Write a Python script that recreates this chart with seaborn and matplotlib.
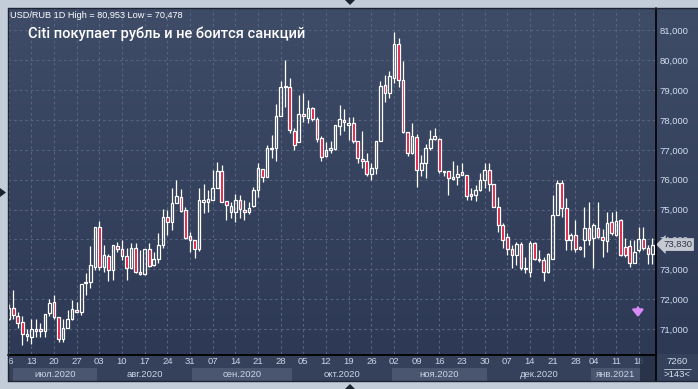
import numpy as np
import matplotlib
matplotlib.use("Agg")
import matplotlib.pyplot as plt
import matplotlib.transforms as mtransforms
from matplotlib.patches import Rectangle, Polygon
import seaborn as sns

# ---------------- data (USD/RUB daily, 6 Jul 2020 - 21 Jan 2021) ----------------
opens = [71.35, 71.72, 71.44, 71.22, 70.78, 70.74, 70.94, 71.00, 70.93, 71.52,
         71.91, 71.39, 70.65, 71.05, 71.35, 71.63, 71.56, 72.53, 72.56, 73.08,
         74.42, 73.08, 73.45, 72.97, 73.79, 73.68, 73.45, 73.05, 73.72, 72.90,
         72.83, 73.68, 73.14, 73.33, 73.81, 74.76, 74.60, 75.21, 75.41, 74.99,
         74.12, 73.98, 73.67, 75.27, 75.24, 75.32, 75.71, 76.29, 75.29, 74.91,
         74.91, 75.32, 74.99, 74.91, 75.13, 75.66, 76.35, 76.10, 77.03, 77.05,
         78.15, 79.10, 79.10, 77.63, 77.25, 78.19, 78.08, 78.42, 78.02, 77.39,
         76.78, 77.01, 77.04, 77.79, 77.99, 77.85, 77.90, 77.29, 76.71, 76.62,
         76.20, 76.39, 77.29, 79.16, 78.91, 79.41, 80.55, 79.35, 77.60, 76.90,
         77.42, 76.34, 76.56, 77.06, 77.38, 77.37, 76.30, 76.28, 76.04, 76.09,
         76.25, 76.17, 75.52, 75.50, 75.67, 76.00, 76.34, 75.86, 75.08, 74.48,
         74.07, 73.67, 73.48, 73.85, 73.02, 72.92, 73.87, 73.36, 73.31, 72.92,
         73.33, 74.82, 75.90, 75.04, 73.98, 74.15, 73.67, 73.98, 74.37, 74.04,
         74.37, 74.09, 73.96, 74.60, 74.15, 74.65, 73.76, 73.78, 73.22, 73.65,
         74.00, 73.70, 73.51]
highs = [71.85, 72.30, 71.58, 71.43, 71.00, 71.33, 71.33, 71.19, 71.50, 72.00,
         72.14, 71.39, 71.35, 71.63, 71.97, 71.91, 72.50, 72.86, 73.79, 74.42,
         74.61, 73.81, 73.50, 73.83, 73.92, 73.98, 73.70, 73.87, 73.87, 73.64,
         73.68, 73.87, 73.59, 74.23, 75.02, 74.98, 75.71, 75.99, 75.68, 75.10,
         74.26, 73.98, 75.74, 75.85, 75.66, 76.33, 76.61, 76.49, 75.29, 75.27,
         75.51, 75.49, 75.32, 75.27, 75.77, 76.55, 76.35, 77.16, 77.50, 78.53,
         79.31, 80.01, 79.42, 77.72, 78.84, 78.89, 78.67, 78.45, 78.10, 77.45,
         77.25, 77.30, 77.85, 78.49, 78.38, 78.09, 78.09, 77.29, 77.62, 76.90,
         76.56, 77.31, 79.30, 79.52, 79.63, 80.95, 80.75, 79.97, 77.60, 77.90,
         77.53, 76.84, 77.20, 77.68, 77.73, 77.40, 76.30, 76.28, 76.64, 76.50,
         76.56, 76.17, 75.72, 75.84, 76.23, 76.56, 76.56, 75.86, 75.43, 74.54,
         74.21, 73.81, 73.90, 73.93, 73.42, 73.96, 73.93, 73.65, 73.40, 73.53,
         75.49, 75.99, 75.99, 75.38, 74.23, 74.65, 73.78, 75.08, 75.27, 74.54,
         75.27, 74.34, 74.93, 74.93, 74.96, 74.67, 74.04, 73.98, 73.98, 74.41,
         74.43, 73.81, 74.04]
lows = [71.30, 71.35, 71.02, 70.48, 70.60, 70.50, 70.74, 70.74, 70.74, 71.43,
        71.35, 70.57, 70.57, 71.05, 71.30, 71.56, 71.47, 72.14, 72.38, 72.97,
        72.97, 72.92, 72.60, 72.64, 73.59, 73.31, 72.64, 73.03, 72.86, 72.81,
        72.81, 73.08, 73.12, 73.20, 73.70, 74.15, 74.32, 75.21, 74.93, 74.00,
        73.59, 73.37, 73.60, 74.88, 74.93, 75.32, 75.71, 75.27, 74.65, 74.71,
        74.57, 74.71, 74.65, 74.84, 75.10, 75.43, 75.94, 76.10, 76.74, 76.63,
        78.15, 78.45, 77.56, 77.00, 77.25, 77.95, 77.89, 77.98, 77.28, 76.63,
        76.75, 76.90, 77.00, 77.51, 77.62, 77.34, 77.23, 76.56, 76.39, 76.11,
        76.00, 76.20, 77.29, 78.60, 78.74, 79.24, 79.10, 77.57, 76.78, 76.86,
        75.75, 76.11, 76.06, 77.01, 77.34, 76.23, 76.11, 75.50, 76.00, 75.84,
        76.17, 75.33, 75.33, 75.30, 75.61, 75.72, 75.61, 75.08, 74.26, 73.70,
        73.48, 73.03, 73.13, 72.98, 72.86, 72.75, 73.31, 73.25, 72.62, 72.86,
        73.33, 74.82, 74.76, 73.65, 73.65, 73.59, 73.64, 73.42, 73.81, 73.03,
        74.04, 73.40, 73.59, 74.15, 74.10, 73.45, 73.42, 73.09, 73.20, 73.59,
        73.65, 73.18, 73.18]
closes = [71.72, 71.47, 71.19, 70.82, 70.82, 71.00, 71.00, 70.93, 71.50, 71.86,
          71.41, 70.65, 71.04, 71.35, 71.66, 71.58, 72.50, 72.56, 73.14, 74.42,
          73.08, 73.48, 72.97, 73.83, 73.68, 73.45, 73.05, 73.70, 72.92, 72.83,
          73.68, 73.12, 73.34, 73.81, 74.76, 74.59, 75.21, 75.46, 74.95, 74.06,
          73.98, 73.67, 75.32, 75.32, 75.35, 75.71, 76.29, 75.27, 75.15, 75.13,
          75.32, 75.02, 74.93, 75.07, 75.66, 76.38, 76.10, 77.05, 77.05, 78.15,
          79.10, 79.12, 77.67, 77.16, 78.19, 78.14, 78.42, 78.02, 77.36, 76.77,
          77.01, 77.06, 77.82, 78.05, 77.92, 77.90, 77.29, 76.73, 76.62, 76.20,
          76.39, 77.29, 79.13, 78.91, 79.46, 80.55, 79.35, 77.60, 76.90, 77.45,
          76.34, 76.56, 77.06, 77.37, 77.45, 76.28, 76.25, 76.06, 76.08, 76.20,
          76.17, 75.45, 75.47, 75.67, 76.00, 76.34, 75.86, 75.10, 74.48, 73.98,
          73.67, 73.48, 73.85, 73.03, 73.06, 73.87, 73.33, 73.31, 72.92, 73.51,
          74.82, 75.90, 75.04, 73.98, 74.15, 73.67, 73.74, 74.37, 73.98, 74.48,
          74.09, 73.98, 74.54, 74.23, 74.63, 73.48, 73.48, 73.22, 73.59, 74.00,
          73.70, 73.51, 73.83]

tick_days = ["06", "13", "20", "27", "03", "10", "17", "24", "31", "07", "14",
             "21", "28", "05", "12", "19", "26", "02", "09", "16", "23", "30",
             "07", "14", "21", "28", "04", "11", "18"]
tick_idx = [0, 5, 10, 15, 20, 25, 30, 35, 40, 45, 50, 55, 60, 65, 70, 75, 80,
            85, 90, 95, 100, 105, 110, 115, 120, 125, 129, 134, 139]
month_labels = ["июл.2020", "авг.2020", "сен.2020", "окт.2020", "ноя.2020",
                "дек.2020", "янв.2021"]
month_edges = [0.9, 19.5, 40.5, 62.5, 84.5, 105.5, 128.5, 139.3]
y_ticks = [71, 72, 73, 74, 75, 76, 77, 78, 79, 80, 81]
y_tick_labels = ["71,000", "72,000", "73,000", "74,000", "75,000", "76,000",
                 "77,000", "78,000", "79,000", "80,000", "81,000"]
last_price_label = "73,830"
signal_idx = 138.8
signal_value = 71.55

# ---------------- style ----------------
W, H = 698, 389
sns.set_theme(style="dark", rc={"axes.facecolor": "none"})
plt.rcParams['font.family'] = ['Liberation Sans', 'DejaVu Sans']

FRAME = '#c3cdd9'
RED = '#e0143c'
GRID = '#56637f'
TXT = '#d3dfee'

fig = plt.figure(figsize=(W / 100, H / 100), dpi=100, facecolor=FRAME)


def rect(x0, y0, x1, y1):
    return [x0 / W, 1 - y1 / H, (x1 - x0) / W, (y1 - y0) / H]


# background gradient (plot + right price panel)
bg = fig.add_axes(rect(8, 8, 698, 354), zorder=0)
top = np.array([0x3f, 0x4c, 0x68]) / 255
bot = np.array([0x2d, 0x39, 0x55]) / 255
t = np.linspace(0, 1, 256)[:, None]
grad = (top[None, :] * (1 - t) + bot[None, :] * t)[:, None, :]
bg.imshow(grad, extent=[0, 1, 0, 1], aspect='auto')
bg.axis('off')

# bottom strip (x axis)
xa = fig.add_axes(rect(8, 354, 655, 381), zorder=1)
xa.set_facecolor('#35415b')
x_left = (8 - 8.7) / 4.533
x_right = (655 - 8.7) / 4.533
xa.set_xlim(x_left, x_right)
xa.set_ylim(0, 1)
for s in xa.spines.values():
    s.set_visible(False)
xa.set_xticks([])
xa.set_yticks([])
for k, lab in enumerate(month_labels):
    a, b = month_edges[k], month_edges[k + 1]
    if k % 2 == 0:
        xa.add_patch(Rectangle((a, 0), b - a, 0.48, facecolor='#4a5670',
                               edgecolor='none', zorder=1))
    xa.text((a + b) / 2, 0.235, lab, ha='center', va='center', fontsize=6.8,
            color='#c9d5e4', zorder=3, clip_on=True)
for i, lab in zip(tick_idx, tick_days):
    xa.text(i, 0.71, lab, ha='center', va='center', fontsize=6.8,
            color='#c9d5e4', zorder=3, clip_on=True)
xa.add_patch(Rectangle((month_edges[-1], 0), x_right - month_edges[-1], 1,
                       facecolor='#283249', alpha=0.85, edgecolor='none', zorder=4))

# main price axes
ax = fig.add_axes(rect(8, 8, 655, 354), zorder=2)
ax.set_facecolor('none')
ax.set_xlim(x_left, x_right)
ymin = 81 - (354 - 30.5) / 29.85
ymax = 81 + (30.5 - 8) / 29.85
ax.set_ylim(ymin, ymax)

for i in tick_idx:
    ax.axvline(i, color=GRID, lw=0.8, dashes=(2.5, 2.5), zorder=1)
for v in y_ticks:
    ax.axhline(v, color=GRID, lw=0.8, dashes=(2.5, 2.5), zorder=1)

o = np.array(opens)
c = np.array(closes)
hi = np.array(highs)
lo = np.array(lows)
x = np.arange(len(o))
btop = np.maximum(o, c)
bbot = np.minimum(o, c)
hgt = np.maximum(btop - bbot, 0.04)
up = c >= o

ax.vlines(x, btop, hi, color='white', lw=0.9, zorder=3)
ax.vlines(x, lo, bbot, color='white', lw=0.9, zorder=3)
ax.bar(x[up], hgt[up], bottom=bbot[up], width=0.58, facecolor='none',
       edgecolor='white', linewidth=0.9, zorder=4)
ax.bar(x[~up], hgt[~up], bottom=bbot[~up], width=0.58, facecolor=RED,
       edgecolor='white', linewidth=0.9, zorder=4)

ax.set_xticks([])
ax.yaxis.tick_right()
ax.set_yticks(y_ticks)
ax.set_yticklabels(y_tick_labels)
ax.tick_params(axis='y', length=0, pad=3.5, labelsize=6.8, labelcolor=TXT)
ax.grid(False)
for s in ax.spines.values():
    s.set_visible(False)

# signal arrow (down arrow with shaft)
ax.annotate('', xy=(signal_idx, signal_value - 0.15),
            xytext=(signal_idx, signal_value + 0.17),
            arrowprops=dict(arrowstyle='-|>,head_length=0.5,head_width=0.4',
                            mutation_scale=8, lw=1.8, color='#d98af7',
                            shrinkA=0, shrinkB=0),
            zorder=5)

# last price tag
trans = mtransforms.blended_transform_factory(ax.transAxes, ax.transData)
ax.text(1.0 + 8 / 647, closes[-1], last_price_label, transform=trans,
        ha='left', va='center', fontsize=6.8, color='#2b3345', clip_on=False,
        bbox=dict(boxstyle='larrow,pad=0.2', fc='#c5cad2', ec='none'), zorder=6)

# ---------------- frame decorations (pixel space) ----------------
ov = fig.add_axes([0, 0, 1, 1], zorder=10)
ov.set_xlim(0, W)
ov.set_ylim(H, 0)
ov.axis('off')
ov.patch.set_alpha(0)

ov.add_patch(Rectangle((655, 354), 43, 27, facecolor='#35415b', edgecolor='none'))
ov.plot([655.5, 655.5], [8, 381], color='black', lw=1.2)
ov.plot([8, 655.5], [354.5, 354.5], color='black', lw=1.3)
ov.plot([7.5, 7.5], [7.5, 381], color='#1d2433', lw=1.0)
ov.plot([7.5, 698], [7.5, 7.5], color='#1d2433', lw=1.0)
ov.plot([7.5, 698], [381, 381], color='#1d2433', lw=1.0)
ov.plot([664, 691], [368.5, 368.5], color='#aab6c6', lw=0.7)
ov.text(677, 362, '7260', ha='center', va='center', fontsize=6.8, color=TXT)
ov.text(677, 374.5, '>143<', ha='center', va='center', fontsize=6.8, color=TXT)

ov.add_patch(Polygon([[0, 188], [6, 192.5], [0, 197]], closed=True,
                     facecolor='#1b2230', edgecolor='none'))
ov.add_patch(Polygon([[345, 0], [355, 0], [350, 5]], closed=True,
                     facecolor='#1b2230', edgecolor='none'))
ov.add_patch(Polygon([[345, 389], [355, 389], [350, 384]], closed=True,
                     facecolor='#1b2230', edgecolor='none'))

ov.text(10, 15.5, 'USD/RUB 1D High = 80,953 Low = 70,478', ha='left',
        va='center', fontsize=6.6, color='white')
ov.text(28, 34, 'Citi покупает рубль и не боится санкций', ha='left',
        va='center', fontsize=10.5, fontweight='medium', color='white',
        family=['Roboto', 'DejaVu Sans'])

fig.savefig('out.png', dpi=100, facecolor=FRAME)
